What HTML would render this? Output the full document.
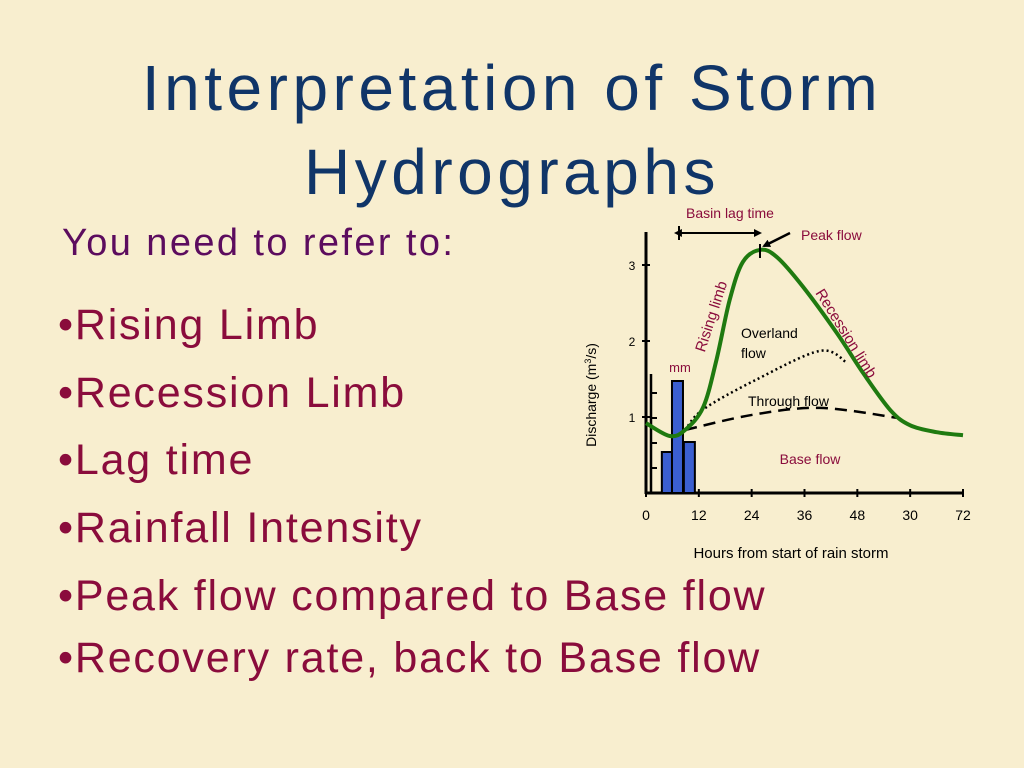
<!DOCTYPE html>
<html><head><meta charset="utf-8"><style>
html,body{margin:0;padding:0}
body{width:1024px;height:768px;background:#f8eecf;position:relative;overflow:hidden;font-family:"Liberation Sans",sans-serif}
.t{position:absolute;white-space:nowrap;line-height:1}
.title{color:#103568;font-size:64px;left:0;width:1024px;text-align:center;letter-spacing:4.5px}
.b{color:#8a0c3c;font-size:43px;left:58px;letter-spacing:1.8px}
</style></head><body>
<div class="t title" style="top:56px">Interpretation of Storm</div>
<div class="t title" style="top:140px">Hydrographs</div>
<div class="t" style="left:62px;top:224px;font-size:38px;color:#5c0c5e;letter-spacing:2.4px">You need to refer to:</div>
<div class="t b" style="top:304px">•Rising Limb</div>
<div class="t b" style="top:372px">•Recession Limb</div>
<div class="t b" style="top:439px">•Lag time</div>
<div class="t b" style="top:507px">•Rainfall Intensity</div>
<div class="t b" style="top:575px">•Peak flow compared to Base flow</div>
<div class="t b" style="top:637px">•Recovery rate, back to Base flow</div>

<svg id="chart" width="1024" height="768" style="position:absolute;left:0;top:0" font-family="Liberation Sans, sans-serif"></svg>
<script>
const xTickLabels=["0","12","24","36","48","30","72"];
const xTickHours=[0,12,24,36,48,60,72];
const yTicks=[1,2,3];
const stormHours=[0,5.4,8.9,13,16,19,22,26,29.8,35.7,43.4,49.3,55.5,60,66,72];
const stormFlow=[0.92,0.75,0.83,1.13,1.75,2.54,3.04,3.2,3.1,2.71,2.1,1.58,1.09,0.89,0.8,0.76];
const overlandHours=[8.9,13,25,39.5,45.7];
const overlandFlow=[0.83,1.1,1.49,1.87,1.71];
const baseHours=[8.9,24.3,39.5,57];
const baseFlow=[0.83,1.03,1.12,0.99];
const rainStart=[3.6,5.9,8.6];
const rainMm=[1.64,4.48,2.04];
const rainTicks=[1,2,3,4];

const NS="http://www.w3.org/2000/svg";
const svg=document.getElementById('chart');
const X=h=>646+h*(317/72);
const Y=q=>493-q*76;
const RY=m=>493-m*25;
function mk(tag,attrs,parent){const e=document.createElementNS(NS,tag);for(const k in attrs)e.setAttribute(k,attrs[k]);(parent||svg).appendChild(e);return e;}
function txt(s,attrs){const e=mk('text',attrs);e.textContent=s;return e;}
function smooth(xs,ys){let p=[];for(let i=0;i<xs.length;i++)p.push([X(xs[i]),Y(ys[i])]);let d="M"+p[0][0]+","+p[0][1];for(let i=0;i<p.length-1;i++){const p0=p[i-1]||p[i],p1=p[i],p2=p[i+1],p3=p[i+2]||p2;const c1x=p1[0]+(p2[0]-p0[0])/6,c1y=p1[1]+(p2[1]-p0[1])/6,c2x=p2[0]-(p3[0]-p1[0])/6,c2y=p2[1]-(p3[1]-p1[1])/6;d+=` C${c1x},${c1y} ${c2x},${c2y} ${p2[0]},${p2[1]}`;}return d;}

let e=mk('line',{x1:646,y1:232,x2:646,y2:494,stroke:'#000','stroke-width':3});

e=mk('line',{x1:645,y1:493,x2:964,y2:493,stroke:'#000','stroke-width':3});

xTickHours.forEach((h,i)=>{
  const l=mk('line',{x1:X(h),y1:489,x2:X(h),y2:497,stroke:'#000','stroke-width':2});
  
  const t=txt(xTickLabels[i],{x:X(h),y:520,'text-anchor':'middle','font-size':14});
  
});
yTicks.forEach(q=>{
  const l=mk('line',{x1:642,y1:Y(q),x2:650,y2:Y(q),stroke:'#000','stroke-width':2});
  
  const t=txt(String(q),{x:632,y:Y(q)+5,'text-anchor':'middle','font-size':12});
  
});
e=txt('Hours from start of rain storm',{x:791,y:558,'text-anchor':'middle','font-size':15});

e=mk('text',{x:0,y:0,transform:'translate(596,395) rotate(-90)','text-anchor':'middle','font-size':14});
e.innerHTML='Discharge (m<tspan font-size="9" dy="-5">3</tspan><tspan dy="5">/s)</tspan>';


e=mk('line',{x1:651,y1:374,x2:651,y2:493,stroke:'#000','stroke-width':2.5});

rainTicks.forEach(m=>{const l=mk('line',{x1:651,y1:RY(m),x2:657,y2:RY(m),stroke:'#000','stroke-width':2});
  });
rainStart.forEach((h,i)=>{
  const r=mk('rect',{x:X(h),y:RY(rainMm[i]),width:X(h+2.5)-X(h),height:493-RY(rainMm[i]),fill:'#3b5fd0',stroke:'#000','stroke-width':2});
  
});
e=txt('mm',{x:680,y:372,'text-anchor':'middle','font-size':13,fill:'#8a0c3c'});


e=mk('path',{d:smooth(baseHours,baseFlow),fill:'none',stroke:'#000','stroke-width':2.5,'stroke-dasharray':'12,7'});

e=mk('path',{d:smooth(overlandHours,overlandFlow),fill:'none',stroke:'#000','stroke-width':2.5,'stroke-dasharray':'2,3'});

e=mk('path',{d:smooth(stormHours,stormFlow),fill:'none',stroke:'#1f7a10','stroke-width':4});


e=mk('line',{x1:760,y1:244,x2:760,y2:258,stroke:'#000','stroke-width':2});

mk('defs',{}).innerHTML='<marker id="ah" markerWidth="8" markerHeight="8" refX="6" refY="4" orient="auto" markerUnits="userSpaceOnUse"><path d="M0,0 L8,4 L0,8 z"/></marker><marker id="ahs" markerWidth="8" markerHeight="8" refX="2" refY="4" orient="auto-start-reverse" markerUnits="userSpaceOnUse"><path d="M0,0 L8,4 L0,8 z"/></marker>';
e=mk('line',{x1:X(7.7),y1:233,x2:760,y2:233,stroke:'#000','stroke-width':2,'marker-end':'url(#ah)','marker-start':'url(#ahs)'});

e=mk('line',{x1:679,y1:226,x2:679,y2:240,stroke:'#000','stroke-width':2});

e=mk('line',{x1:790,y1:233,x2:764,y2:246,stroke:'#000','stroke-width':2.5,'marker-end':'url(#ah)'});

e=txt('Basin lag time',{x:730,y:218,'text-anchor':'middle','font-size':14,fill:'#8a0c3c'});

e=txt('Peak flow',{x:801,y:240,'font-size':14,fill:'#8a0c3c'});

e=txt('Rising limb',{x:0,y:0,transform:'translate(716,318) rotate(-72)','text-anchor':'middle','font-size':15,fill:'#8a0c3c'});

e=txt('Recession limb',{x:0,y:0,transform:'translate(842,336) rotate(58)','text-anchor':'middle','font-size':15,fill:'#8a0c3c'});

e=txt('Overland',{x:741,y:338,'font-size':14});

e=txt('flow',{x:741,y:358,'font-size':14});

e=txt('Through flow',{x:748,y:406,'font-size':14});

e=txt('Base flow',{x:810,y:464,'text-anchor':'middle','font-size':14,fill:'#8a0c3c'});

</script>
</body></html>
